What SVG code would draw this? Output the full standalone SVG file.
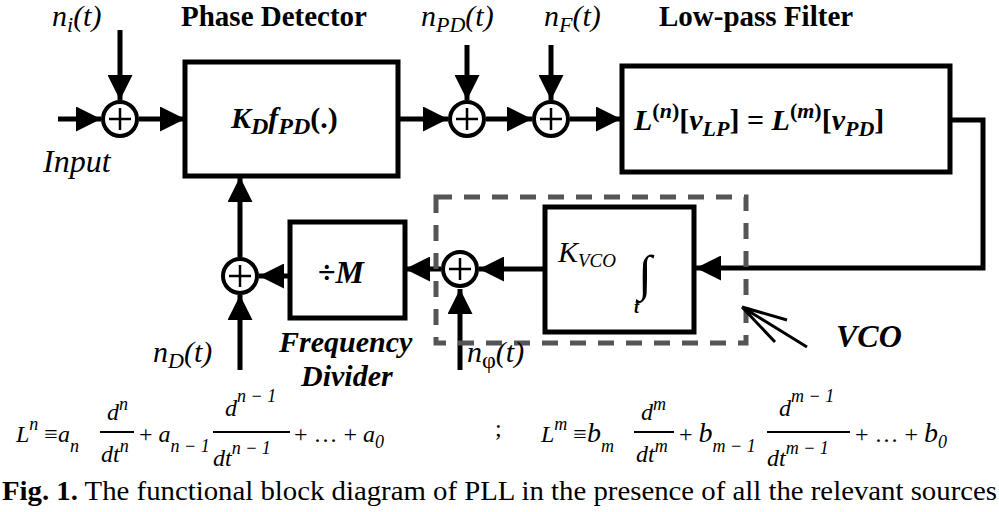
<svg xmlns="http://www.w3.org/2000/svg" width="999" height="512" viewBox="0 0 999 512">
<style>
text{font-family:'Liberation Serif','Times New Roman','Nimbus Roman','DejaVu Serif',serif}
.ln{stroke:#000;stroke-width:5;fill:none}
.bx{stroke:#000;stroke-width:5;fill:#fff}
.sc{stroke:#000;stroke-width:4;fill:#fff}
.t{font-style:italic;fill:#000}
.b{font-weight:bold;fill:#000}
</style>
<defs>
<marker id="a" viewBox="0 0 10 10" refX="10" refY="5" markerWidth="5" markerHeight="5" orient="auto" markerUnits="strokeWidth"><path d="M0,0L10,5L0,10z" fill="#000"/></marker>
<g id="sum"><circle r="17" class="sc"/><path d="M-11,0H11M0,-11V11" stroke="#000" stroke-width="2.5"/></g>
</defs>
<g id="connectors">
<path class="ln" d="M58,119H101" marker-end="url(#a)"/>
<path class="ln" d="M120,30V100" marker-end="url(#a)"/>
<path class="ln" d="M139,119H185" marker-end="url(#a)"/>
<path class="ln" d="M398,119H448" marker-end="url(#a)"/>
<path class="ln" d="M467,45V100" marker-end="url(#a)"/>
<path class="ln" d="M486,119H532" marker-end="url(#a)"/>
<path class="ln" d="M551,45V100" marker-end="url(#a)"/>
<path class="ln" d="M570,119H621" marker-end="url(#a)"/>
<path class="ln" d="M950,120H983V268H696" marker-end="url(#a)"/>
<path class="ln" d="M545,269H479" marker-end="url(#a)"/>
<path class="ln" d="M460,370V289" marker-end="url(#a)"/>
<path class="ln" d="M441,269H405" marker-end="url(#a)"/>
<path class="ln" d="M290,276H259" marker-end="url(#a)"/>
<path class="ln" d="M240,370V295" marker-end="url(#a)"/>
<path class="ln" d="M240,257V177" marker-end="url(#a)"/>
<rect x="436" y="197" width="310" height="146" fill="none" stroke="#555" stroke-width="5" stroke-dasharray="16,12"/>
<path d="M742,307L807,347M742,307L775,342M742,307L787,320" stroke="#000" stroke-width="3" fill="none"/>
</g>
<g id="s1"><use href="#sum" x="120" y="119"/></g>
<g id="s2"><use href="#sum" x="467" y="119"/></g>
<g id="s3"><use href="#sum" x="551" y="119"/></g>
<g id="s4"><use href="#sum" x="460" y="269"/></g>
<g id="s5"><use href="#sum" x="240" y="276"/></g>
<g id="pd"><rect x="185" y="62" width="213" height="114" class="bx"/>
<text x="231" y="128" class="b" font-size="30" font-style="italic">K<tspan font-size="24" dy="6">D</tspan><tspan dy="-6">f</tspan><tspan font-size="24" dy="6">PD</tspan><tspan dy="-6" font-style="normal">(.)</tspan></text></g>
<g id="lpf"><rect x="622" y="66" width="328" height="106" class="bx"/>
<text x="634" y="130" class="b" font-size="30" font-style="italic">L<tspan font-size="22" dy="-12" font-style="normal">(</tspan><tspan font-size="22">n</tspan><tspan font-size="22" font-style="normal">)</tspan><tspan dy="12" font-style="normal">[</tspan>v<tspan font-size="22" dy="6">LP</tspan><tspan dy="-6" font-style="normal">] = </tspan>L<tspan font-size="22" dy="-12" font-style="normal">(</tspan><tspan font-size="22">m</tspan><tspan font-size="22" font-style="normal">)</tspan><tspan dy="12" font-style="normal">[</tspan>v<tspan font-size="22" dy="6">PD</tspan><tspan dy="-6" font-style="normal">]</tspan></text></g>
<g id="vco"><rect x="545" y="207" width="149" height="125" class="bx"/>
<text x="558" y="262" class="t" font-size="30">K<tspan font-size="19" dy="5">VCO</tspan></text>
<text x="638" y="290" font-size="50">∫</text>
<text x="634" y="313" class="t" font-size="18" font-weight="bold">t</text></g>
<g id="div"><rect x="290" y="222" width="115" height="96" class="bx"/>
<text x="318" y="283" class="b" font-size="32" font-style="italic"><tspan font-style="normal">÷</tspan>M</text></g>
<g id="labels">
<text x="52" y="26" class="t" font-size="30">n<tspan font-size="22" dy="6">i</tspan><tspan dy="-6">(t)</tspan></text>
<text x="43" y="172" class="t" font-size="32">Input</text>
<text x="181" y="26" class="b" font-size="29">Phase Detector</text>
<text x="421" y="26" class="t" font-size="30">n<tspan font-size="22" dy="6">PD</tspan><tspan dy="-6">(t)</tspan></text>
<text x="544" y="26" class="t" font-size="30">n<tspan font-size="22" dy="6">F</tspan><tspan dy="-6">(t)</tspan></text>
<text x="659" y="26" class="b" font-size="29">Low-pass Filter</text>
<text x="836" y="347" class="b" font-size="32" font-style="italic">VCO</text>
<text x="153" y="362" class="t" font-size="30">n<tspan font-size="22" dy="6">D</tspan><tspan dy="-6">(t)</tspan></text>
<text x="279" y="352" class="b" font-size="30" font-style="italic">Frequency</text>
<text x="301" y="386" class="b" font-size="30" font-style="italic">Divider</text>
<text x="467" y="362" class="t" font-size="30">n<tspan font-size="24" dy="6" font-style="normal">φ</tspan><tspan dy="-6">(t)</tspan></text>
</g>
<g id="eq" font-style="italic" font-size="24">
<text x="16" y="442">L<tspan font-size="18" dy="-12">n</tspan><tspan dy="12" font-style="normal"> ≡</tspan>a<tspan font-size="18" dy="10">n</tspan></text>
<text x="107" y="420">d<tspan font-size="18" dy="-10">n</tspan></text>
<line x1="100" y1="432" x2="134" y2="432" stroke="#000" stroke-width="2"/>
<text x="101" y="462">dt<tspan font-size="18" dy="-10">n</tspan></text>
<text x="139" y="442"><tspan font-style="normal">+ </tspan>a<tspan font-size="18" dy="10">n − 1</tspan></text>
<text x="225" y="416">d<tspan font-size="18" dy="-14">n − 1</tspan></text>
<line x1="213" y1="432" x2="290" y2="432" stroke="#000" stroke-width="2"/>
<text x="213" y="466">dt<tspan font-size="18" dy="-12">n − 1</tspan></text>
<text x="294" y="442"><tspan font-style="normal">+ … + </tspan>a<tspan font-size="18" dy="6">0</tspan></text>
<text x="495" y="436" font-style="normal">;</text>
<text x="541" y="442">L<tspan font-size="18" dy="-12">m</tspan><tspan dy="12" font-style="normal"> ≡</tspan><tspan font-size="28">b</tspan><tspan font-size="18" dy="10">m</tspan></text>
<text x="641" y="420">d<tspan font-size="18" dy="-10">m</tspan></text>
<line x1="634" y1="432" x2="674" y2="432" stroke="#000" stroke-width="2"/>
<text x="636" y="462">dt<tspan font-size="18" dy="-10">m</tspan></text>
<text x="679" y="442"><tspan font-style="normal">+ </tspan><tspan font-size="28">b</tspan><tspan font-size="18" dy="10">m − 1</tspan></text>
<text x="779" y="416">d<tspan font-size="18" dy="-14">m − 1</tspan></text>
<line x1="767" y1="432" x2="850" y2="432" stroke="#000" stroke-width="2"/>
<text x="767" y="466">dt<tspan font-size="18" dy="-12">m − 1</tspan></text>
<text x="855" y="442"><tspan font-style="normal">+ … + </tspan><tspan font-size="28">b</tspan><tspan font-size="18" dy="6">0</tspan></text>
</g>
<text x="2" y="500" font-size="28" textLength="995" lengthAdjust="spacingAndGlyphs"><tspan font-weight="bold">Fig. 1.</tspan> The functional block diagram of PLL in the presence of all the relevant sources</text>
</svg>
